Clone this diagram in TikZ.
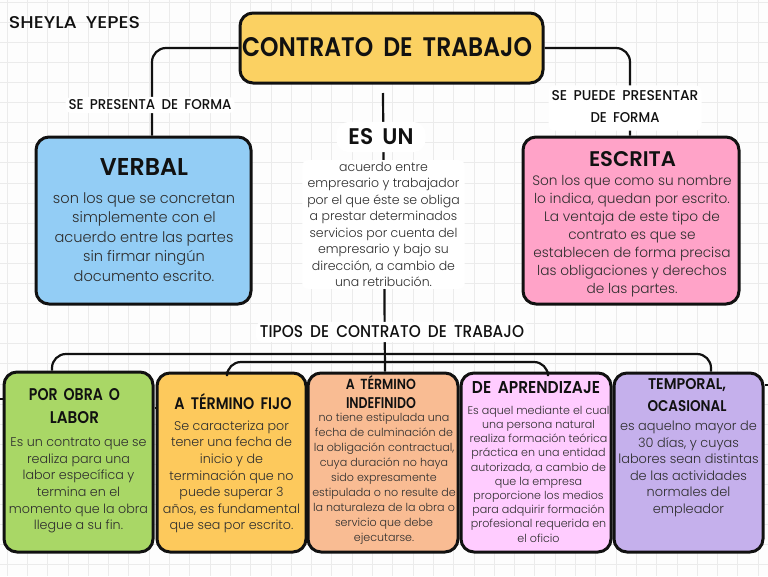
\documentclass[tikz,border=0pt]{standalone}
\usepackage{fontspec}
\usepackage{graphicx}
\setmainfont{Poppins}
\newfontfamily\bodyf{Poppins Light}
\newfontfamily\labf[WordSpace=1.8]{Poppins Medium}
\newfontfamily\bigf[WordSpace=1.8]{Poppins SemiBold}
\definecolor{inkc}{HTML}{111111}
\definecolor{bodyc}{HTML}{2E2E2E}
\definecolor{gridc}{HTML}{EBEBEB}
\definecolor{paper}{HTML}{FDFDFD}
\definecolor{cmain}{HTML}{FBD162}
\definecolor{cblue}{HTML}{93CDF5}
\definecolor{cpink}{HTML}{FFA3C8}
\definecolor{cgreen}{HTML}{A9D766}
\definecolor{corange}{HTML}{FDC95C}
\definecolor{cpeach}{HTML}{F9BC93}
\definecolor{clilac}{HTML}{FFCCFF}
\definecolor{cpurple}{HTML}{C5B0EC}
\newcommand{\ttl}[3]{\resizebox{#1pt}{#2pt}{\labf #3}}
\newcommand{\ttb}[3]{\resizebox{#1pt}{#2pt}{\bigf #3}}
\tikzset{
  card/.style={draw=inkc,line width=3pt,rounded corners=13pt,inner sep=0pt},
  link/.style={draw=inkc,line width=2.2pt,rounded corners=14pt},
  stub/.style={draw=inkc,line width=2.2pt},
  blob/.style={fill=white,rounded corners=6pt,inner sep=3pt,text=inkc},
  head/.style={inner sep=0pt,text=inkc,align=center},
  txt/.style={inner sep=0pt,text=bodyc,align=center},
  big/.style={txt,font=\bodyf\fontsize{14.6}{19.5}\selectfont},
  mid/.style={txt,font=\bodyf\fontsize{12.7}{16.6}\selectfont},
  small/.style={txt,font=\bodyf\fontsize{11.1}{15}\selectfont}
}
\begin{document}
\begin{tikzpicture}[x=1pt,y=-1pt]
\useasboundingbox (0,0) rectangle (768,576);
\fill[paper] (0,0) rectangle (768,576);
\foreach \i in {0,...,37} \draw[gridc,line width=.7pt] ({7+20.3*\i},0) -- ({7+20.3*\i},576);
\foreach \i in {0,...,28} \draw[gridc,line width=.7pt] (0,{2+20.1*\i}) -- (768,{2+20.1*\i});

% boxes
\node[card,fill=cmain,minimum width=303pt,minimum height=70pt] (main) at (391.5,48) {};
\node[card,fill=cblue,minimum width=215pt,minimum height=167pt] (verbal) at (143.5,220.5) {};
\node[card,fill=cpink,minimum width=216pt,minimum height=167pt] (escrita) at (631,220.5) {};
\node[card,fill=cgreen,minimum width=149pt,minimum height=180pt] (obra) at (78.5,462) {};
\node[card,fill=corange,minimum width=149pt,minimum height=179pt] (fijo) at (231.5,462.5) {};
\node[card,fill=cpeach,minimum width=150pt,minimum height=179pt] (indef) at (383,462.5) {};
\node[card,fill=clilac,minimum width=150pt,minimum height=179pt] (apren) at (536,462.5) {};
\node[card,fill=cpurple,minimum width=149pt,minimum height=179pt] (temp) at (688.5,462.5) {};

% free ends and junctions
\coordinate (topstart) at (383,93);
\coordinate (busA) at (385,354);
\coordinate (busB) at (385,362);
\coordinate (edgeL) at (0,399);
\coordinate (edgeR) at (768,385);

% connectors
\draw[link] (main.west) -| ([xshift=8.5pt]verbal.north);
\draw[link] (main.east) -| ([xshift=-1pt]escrita.north);
\draw[stub] (topstart) -- ([xshift=2pt]indef.north);
\draw[link] (busA) -| ([xshift=-26.5pt]obra.north);
\draw[link] (busA) -| ([xshift=22.5pt]temp.north);
\draw[link] (busB) -| ([xshift=-4.5pt]fijo.north);
\draw[link] (busB) -| ([xshift=12pt]apren.north);
\draw[stub] (edgeL) -- (edgeL -| obra.west);
\draw[stub] ([yshift=54pt]obra.east) -- ([yshift=54pt]obra.east -| fijo.west);
\draw[stub] (edgeR) -- (edgeR -| temp.east);

% free labels
\node[head] (author) at (74.5,23) {\ttl{131}{12}{SHEYLA YEPES}};
\node[head] (mainT) at (387,47) {\ttb{290}{19}{CONTRATO DE TRABAJO}};
\node[blob] (lab1) at (150,105) {\ttl{163}{10}{SE PRESENTA DE FORMA}};
\node[blob,inner ysep=5pt] (lab2a) at (625,108) {\begin{tabular}{@{}c@{}}\ttl{147}{10}{SE PUEDE PRESENTAR}\\[8pt]\ttl{69}{10}{DE FORMA}\end{tabular}};
\node[blob,inner xsep=12pt,inner ysep=7pt,rounded corners=12pt] (esun) at (381,137) {\ttb{65}{16}{ES UN}};
\node[blob,align=center,text=bodyc,font=\bodyf\fontsize{12.5}{16.5}\selectfont,inner xsep=5pt,inner ysep=2pt] (esunT) at (383.5,224.5) {acuerdo entre\\empresario y trabajador\\por el que éste se obliga\\a prestar determinados\\servicios por cuenta del\\empresario y bajo su\\dirección, a cambio de\\una retribución.};
\node[blob,inner sep=4pt] (tipos) at (392,332) {\ttl{264}{12}{TIPOS DE CONTRATO DE TRABAJO}};

% verbal
\node[head] (verbalT) at (144,167) {\ttb{88}{17}{VERBAL}};
\node[big] (verbalB) at (144,237) {son los que se concretan\\simplemente con el\\acuerdo entre las partes\\sin firmar ningún\\documento escrito.};
% escrita
\node[head] (escritaT) at (632.5,159) {\ttb{87}{15}{ESCRITA}};
\node[big,font=\bodyf\fontsize{13.7}{18}\selectfont] (escritaB) at (632,236) {Son los que como su nombre\\lo indica, quedan por escrito.\\La ventaja de este tipo de\\contrato es que se\\establecen de forma precisa\\las obligaciones y derechos\\de las partes.};
% obra
\node[head] (obraT) at (74.5,406) {\ttb{91}{12}{POR OBRA O}\\[9pt]\ttb{49}{12}{LABOR}};
\node[mid] (obraB) at (78.5,485.5) {Es un contrato que se\\realiza para una\\labor específica y\\termina en el\\momento que la obra\\llegue a su fin.};
% fijo
\node[head] (fijoT) at (233,402) {\ttb{117}{16}{A TÉRMINO FIJO}};
\node[mid] (fijoB) at (231.5,477) {Se caracteriza por\\tener una fecha de\\inicio y de\\terminación que no\\puede superar 3\\años, es fundamental\\que sea por escrito.};
% indefinido
\node[head] (indefT) at (381,392.5) {\ttb{70}{14}{A TÉRMINO}\\[7pt]\ttb{70}{11}{INDEFINIDO}};
\node[small] (indefB) at (384,478.5) {no tiene estipulada una\\fecha de culminación de\\la obligación contractual,\\cuya duración no haya\\sido expresamente\\estipulada o no resulte de\\la naturaleza de la obra o\\servicio que debe\\ejecutarse.};
% aprendizaje
\node[head] (aprenT) at (536,388) {\ttb{128}{12}{DE APRENDIZAJE}};
\node[small,font=\bodyf\fontsize{11.1}{14.2}\selectfont] (aprenB) at (538.5,474) {Es aquel mediante el cual\\una persona natural\\realiza formación teórica\\práctica en una entidad\\autorizada, a cambio de\\que la empresa\\proporcione los medios\\para adquirir formación\\profesional requerida en\\el oficio};
% temporal
\node[head] (tempT) at (687,395.5) {\ttb{78}{11}{TEMPORAL,}\\[8pt]\ttb{79}{11}{OCASIONAL}};
\node[mid,font=\bodyf\fontsize{12.9}{16.5}\selectfont] (tempB) at (688.5,469) {es aquelno mayor de\\30 días, y cuyas\\labores sean distintas\\de las actividades\\normales del\\empleador};
\end{tikzpicture}
\end{document}
